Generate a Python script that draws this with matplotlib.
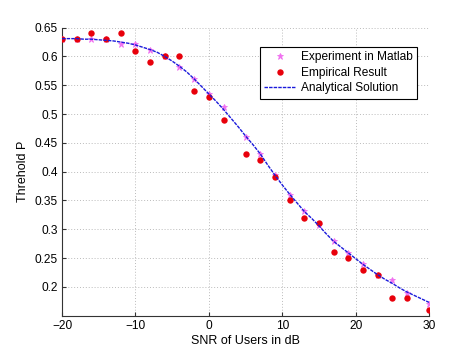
import matplotlib
matplotlib.use("Agg")
import matplotlib.pyplot as plt

# Data
snr_points = [-20, -18, -16, -14, -12, -10, -8, -6, -4, -2, 0, 2, 5, 7, 9, 11, 13, 15, 17, 19, 21, 23, 25, 27, 30]
experiment = [0.63, 0.63, 0.63, 0.63, 0.622, 0.622, 0.611, 0.60, 0.581, 0.561, 0.535, 0.512, 0.461, 0.431,
              0.394, 0.36, 0.331, 0.308, 0.279, 0.259, 0.239, 0.221, 0.211, 0.19, 0.17]
empirical = [0.63, 0.63, 0.64, 0.63, 0.64, 0.61, 0.59, 0.60, 0.60, 0.54, 0.53, 0.49, 0.43, 0.42,
             0.39, 0.35, 0.32, 0.31, 0.26, 0.25, 0.23, 0.22, 0.18, 0.18, 0.16]

snr_curve = list(range(-20, 31))
analytical = [0.631, 0.631, 0.631, 0.630, 0.630, 0.629, 0.628, 0.627, 0.625, 0.623,
              0.620, 0.616, 0.612, 0.607, 0.600, 0.592, 0.583, 0.573, 0.561, 0.548,
              0.535, 0.522, 0.508, 0.493, 0.478, 0.462, 0.447, 0.431, 0.412, 0.394,
              0.377, 0.361, 0.346, 0.331, 0.319, 0.306, 0.292, 0.279, 0.269, 0.259,
              0.249, 0.239, 0.230, 0.221, 0.213, 0.206, 0.198, 0.191, 0.185, 0.179, 0.173]

xticks = [-20, -10, 0, 10, 20, 30]
yticks = [0.2, 0.25, 0.3, 0.35, 0.4, 0.45, 0.5, 0.55, 0.6, 0.65]
ytick_labels = ["0.2", "0.25", "0.3", "0.35", "0.4", "0.45", "0.5", "0.55", "0.6", "0.65"]

plt.rcParams['font.family'] = ['Liberation Sans', 'DejaVu Sans']
fs = 8.6

fig = plt.figure(figsize=(4.74, 3.55), dpi=100)
ax = fig.add_axes([0.131, 0.111, 0.774, 0.811])

ax.plot(snr_points, experiment, linestyle='none', marker='*', markersize=4.5,
        color='#f070f0', markeredgewidth=0.6, label='Experiment in Matlab', zorder=3)
ax.plot(snr_points, empirical, linestyle='none', marker='o', markersize=4.6,
        color='#e8000b', markeredgewidth=0, label='Empirical Result', zorder=4)
ax.plot(snr_curve, analytical, linestyle=(0, (2.5, 0.8)), linewidth=1.0,
        color='#1a1adb', label='Analytical Solution', zorder=5)

ax.set_xlim(-20, 30)
ax.set_ylim(0.15, 0.65)
ax.set_xticks(xticks)
ax.set_yticks(yticks)
ax.set_yticklabels(ytick_labels)
ax.tick_params(direction='in', length=3, labelsize=fs, colors='#333333', labelcolor='black', pad=3)
ax.grid(True, linestyle=(0, (1, 2)), color='#bbbbbb', linewidth=0.7)
for s in ['top', 'right']:
    ax.spines[s].set_visible(False)
for s in ['left', 'bottom']:
    ax.spines[s].set_color('#333333')
    ax.spines[s].set_linewidth(0.8)

ax.set_xlabel('SNR of Users in dB', fontsize=fs + 0.4, labelpad=2)
ax.set_ylabel('Threhold P', fontsize=fs + 0.4, labelpad=4)

leg = ax.legend(loc='upper right', bbox_to_anchor=(0.968, 0.933), fontsize=fs,
                frameon=True, fancybox=False, edgecolor='black', framealpha=1,
                borderpad=0.35, labelspacing=0.3, handlelength=2.6, handletextpad=0.5,
                borderaxespad=0)
leg.get_frame().set_linewidth(0.8)

fig.savefig('out.png', dpi=100)
